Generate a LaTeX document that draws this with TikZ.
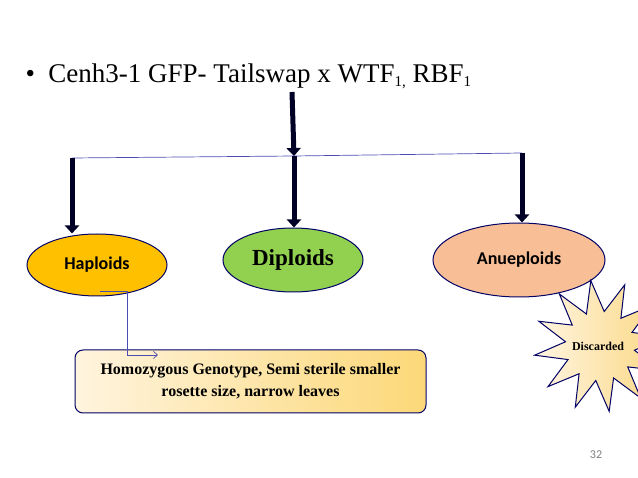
\documentclass[tikz,border=0pt]{standalone}
\usepackage{fontspec}
\setmainfont{Liberation Serif}
\newfontfamily\carl{Carlito}
\usetikzlibrary{shapes.geometric,arrows.meta}
\begin{document}
\begin{tikzpicture}[x=1pt,y=-1pt,
 bigarr/.style={line width=5pt,draw=black!85!blue,-{Triangle[length=8pt,width=14pt]}},
 ell/.style={ellipse,draw=blue!40!black,line width=1pt,inner sep=0pt},
 thin/.style={draw=blue!40!gray,line width=0.7pt}]
\useasboundingbox (0,0) rectangle (638,478);
\node[anchor=west,font=\fontsize{27}{30}\selectfont] (t) at (22,76) {\textbullet\ \ Cenh3-1 GFP- Tailswap x WTF\raisebox{-4pt}{\fontsize{15}{16}\selectfont 1,} RBF\raisebox{-4pt}{\fontsize{15}{16}\selectfont 1}};
\coordinate (top) at (292,92);
\coordinate (hl) at (72,158);
\coordinate (hm) at (294,156);
\coordinate (hr) at (522,153);
\draw[thin] (hl) -- (hm) -- (hr);
\node[ell,fill={rgb,255:red,255;green,192;blue,0},minimum width=140pt,minimum height=62pt,font=\carl\bfseries\fontsize{18}{20}\selectfont] (hap) at (97,265) {Haploids};
\node[ell,fill={rgb,255:red,146;green,208;blue,80},minimum width=140pt,minimum height=64pt,font=\bfseries\fontsize{23}{26}\selectfont] (dip) at (293,260) {Diploids};
\node[ell,fill={rgb,255:red,248;green,190;blue,150},minimum width=172pt,minimum height=74pt,font=\carl\bfseries\fontsize{18}{20}\selectfont] (ane) at (519,260) {Anueploids};
\draw[bigarr] (top) -- (hm);
\draw[bigarr] (hl) -- (hap.north -| hl);
\draw[bigarr] (hm) -- (dip.north -| hm);
\draw[bigarr] (hr) -- (ane.north -| hr);
\node[star,star points=12,star point ratio=1.9,draw=blue!40!black,line width=1pt,
 left color={rgb,255:red,255;green,245;blue,225},right color={rgb,255:red,250;green,215;blue,130},
 minimum size=132pt,rotate=8] (dis) at (600,346) {};
\node[font=\bfseries\fontsize{12}{14}\selectfont] (dist) at (598,346) {Discarded};
\node[draw=blue!40!black,line width=1pt,rounded corners=8pt,minimum width=351pt,minimum height=63pt,
 left color={rgb,255:red,255;green,244;blue,222},right color={rgb,255:red,252;green,216;blue,120},
 align=center,font=\bfseries\fontsize{16}{22}\selectfont] (box) at (250.5,381.5) {Homozygous Genotype, Semi sterile smaller\\rosette size, narrow leaves};
\coordinate (c1) at (100,291);
\coordinate (c2) at (158,355);
\draw[thin,-{Straight Barb[length=4pt,width=7pt]}] (c1) -- (127,291) -- (127,355) -- (c2);
\node[text=gray,font=\carl\fontsize{12}{14}\selectfont] (pg) at (596,455) {32};
\end{tikzpicture}
\end{document}
